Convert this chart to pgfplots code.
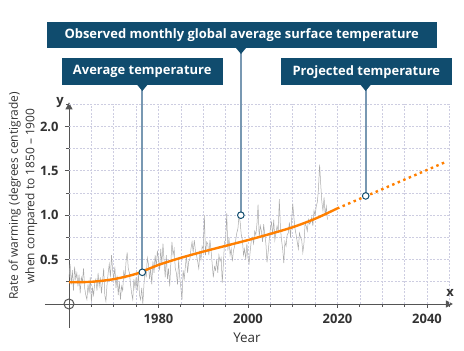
\documentclass[border=0pt]{standalone}
\usepackage{pgfplots}
\pgfplotsset{compat=1.18}
\usepackage{fontspec}
\setmainfont{Open Sans}
\usetikzlibrary{arrows.meta}
\definecolor{boxblue}{RGB}{16,76,110}
\definecolor{conn}{RGB}{120,152,178}
\definecolor{orangec}{RGB}{255,127,0}
\definecolor{grayd}{RGB}{170,170,170}
\definecolor{gridc}{RGB}{205,205,225}
\definecolor{axisgray}{RGB}{85,85,85}
\definecolor{labelgray}{RGB}{50,50,50}
\begin{document}
\begin{tikzpicture}
\useasboundingbox (-69bp,-47bp) rectangle (395bp,304bp);
\begin{axis}[
  anchor=origin, at={(0,0)},
  x=4.475bp, y=88.8bp,
  xmin=-5.4, xmax=85.8, ymin=-0.27, ymax=2.27,
  axis lines=middle,
  axis line style={draw=axisgray, line width=0.9bp, -{Triangle[length=7bp,width=7bp]}},
  xtick={20,40,60,80}, xticklabels={1980,2000,2020,2040},
  minor xtick={5,10,...,85},
  ytick={0.5,1,1.5,2}, yticklabels={0.5,1.0,1.5,2.0},
  minor ytick={0.25,0.75,1.25,1.75,2.25},
  tick align=outside,
  tick style={draw=axisgray, line width=0.9bp},
  major tick length=4bp, minor tick length=3bp,
  ticklabel style={font=\bfseries\fontsize{13}{13}\selectfont, text=labelgray},
  xticklabel style={yshift=-3bp},
  yticklabel style={xshift=-3bp},
  clip=false,
]
\pgfplotsinvokeforeach{5,10,15,20,25,30,35,40,45,50,55,60,65,70,75,80,85}{
  \draw[gridc, line width=0.7bp, dash pattern=on 2bp off 1.5bp] (axis cs:#1,0) -- (axis cs:#1,2.25);
}
\pgfplotsinvokeforeach{0.25,0.5,0.75,1,1.25,1.5,1.75,2,2.25}{
  \draw[gridc, line width=0.7bp, dash pattern=on 2bp off 1.5bp] (axis cs:0,#1) -- (axis cs:85,#1);
}
% observed monthly (sampled) temperature
\addplot[grayd, line width=0.5bp] coordinates {
(0,.30)(0.25,.45)(0.5,.22)(0.75,.38)
(1,.15)(1.25,.42)(1.5,.28)(1.75,.35)
(2,.20)(2.25,.33)(2.5,.12)(2.75,.30)
(3,.25)(3.25,.40)(3.5,.18)(3.75,.10)
(4,.05)(4.25,.22)(4.5,.12)(4.75,.30)
(5,.02)(5.25,.18)(5.5,.10)(5.75,.24)
(6,.28)(6.25,.15)(6.5,.35)(6.75,.20)
(7,.30)(7.25,.12)(7.5,.26)(7.75,.40)
(8,.10)(8.25,.03)(8.5,.22)(8.75,.35)
(9,.45)(9.25,.30)(9.5,.55)(9.75,.38)
(10,.28)(10.25,.42)(10.5,.18)(10.75,.32)
(11,.10)(11.25,.25)(11.5,.05)(11.75,.20)
(12,.15)(12.25,.38)(12.5,.28)(12.75,.48)
(13,.58)(13.25,.40)(13.5,.35)(13.75,.22)
(14,.12)(14.25,.05)(14.5,.28)(14.75,.18)
(15,.30)(15.25,.15)(15.5,.35)(15.75,.10)
(16,.05)(16.25,.18)(16.5,.00)(16.75,.22)
(17,.40)(17.25,.30)(17.5,.52)(17.75,.45)
(18,.28)(18.25,.40)(18.5,.22)(18.75,.48)
(19,.35)(19.25,.55)(19.5,.42)(19.75,.60)
(20,.50)(20.25,.38)(20.5,.62)(20.75,.45)
(21,.68)(21.25,.48)(21.5,.30)(21.75,.55)
(22,.28)(22.25,.40)(22.5,.20)(22.75,.45)
(23,.70)(23.25,.55)(23.5,.62)(23.75,.40)
(24,.35)(24.25,.22)(24.5,.50)(24.75,.30)
(25,.18)(25.25,.05)(25.5,.38)(25.75,.28)
(26,.42)(26.25,.55)(26.5,.35)(26.75,.48)
(27,.50)(27.25,.62)(27.5,.70)(27.75,.58)
(28,.72)(28.25,.60)(28.5,.55)(28.75,.48)
(29,.40)(29.25,.58)(29.5,.50)(29.75,.65)
(30,.62)(30.25,1.00)(30.5,.55)(30.75,.70)
(31,.68)(31.25,.55)(31.5,.72)(31.75,.60)
(32,.45)(32.25,.30)(32.5,.42)(32.75,.38)
(33,.50)(33.25,.35)(33.5,.55)(33.75,.48)
(34,.52)(34.25,.24)(34.5,.45)(34.75,.70)
(35,.72)(35.25,1.02)(35.5,.60)(35.75,.75)
(36,.55)(36.25,.62)(36.5,.48)(36.75,.60)
(37,.65)(37.25,.72)(37.5,.80)(37.75,.85)
(38,1.00)(38.25,.92)(38.5,.78)(38.75,.72)
(39,.55)(39.25,.62)(39.5,.50)(39.75,.68)
(40,.52)(40.25,.46)(40.5,.60)(40.75,.72)
(41,.75)(41.25,.68)(41.5,.82)(41.75,.78)
(42,.90)(42.25,1.12)(42.5,.75)(42.75,.88)
(43,.82)(43.25,.70)(43.5,.90)(43.75,.78)
(44,.68)(44.25,.47)(44.5,.58)(44.75,.72)
(45,.85)(45.25,.92)(45.5,.78)(45.75,.95)
(46,.72)(46.25,.80)(46.5,.88)(46.75,.82)
(47,1.18)(47.25,.85)(47.5,.72)(47.75,.62)
(48,.46)(48.25,.70)(48.5,.65)(48.75,.78)
(49,.80)(49.25,.92)(49.5,.75)(49.75,.95)
(50,1.13)(50.25,.98)(50.5,.85)(50.75,.78)
(51,.70)(51.25,.62)(51.5,.80)(51.75,.75)
(52,.72)(52.25,.58)(52.5,.68)(52.75,.90)
(53,.88)(53.25,.82)(53.5,.95)(53.75,.90)
(54,.92)(54.25,.98)(54.5,.88)(54.75,1.05)
(55,1.00)(55.25,1.10)(55.5,1.15)(55.75,1.30)
(56,1.57)(56.25,1.35)(56.5,1.15)(56.75,1.05)
(57,1.20)(57.25,1.00)(57.5,1.10)(57.75,.95)
};
% average (smoothed) temperature
\addplot[orangec, line width=2.4bp, smooth] coordinates {
(0,.245)(5,.25)(10,.28)(15,.34)(20,.44)(25,.52)(30,.59)(35,.655)(40,.72)(45,.79)(50,.865)(55,.96)(59.9,1.075)
};
% projected temperature
\addplot[orangec, line width=2.4bp, dash pattern=on 2.5bp off 3.5bp] coordinates {
(59.9,1.075)(84.2,1.60)
};
% connectors
\draw[conn, line width=2bp] (axis cs:16.38,0.357) -- (axis cs:16.38,2.6);
\draw[conn, line width=2bp] (axis cs:38.4,1.0) -- (axis cs:38.4,3.0);
\draw[conn, line width=2bp] (axis cs:66.3,1.217) -- (axis cs:66.3,2.6);
\addplot[only marks, mark=*, mark size=3.3bp, mark options={fill=white, draw=boxblue, line width=1bp}] coordinates {(16.38,0.357)(38.4,1.0)(66.3,1.217)};
\end{axis}
\draw[axisgray, line width=1bp] (0,0) circle (5bp);
% axis names
\node[font=\bfseries\fontsize{13}{13}\selectfont, text=labelgray] at (381bp,11bp) {x};
\node[font=\bfseries\fontsize{13}{13}\selectfont, text=labelgray] at (-9bp,201bp) {y};
\node[font=\fontsize{13.5}{13.5}\selectfont, text=labelgray] at (178bp,-34bp) {Year};
\node[rotate=90, align=center, font=\fontsize{12}{16.5}\selectfont, text=labelgray] at (-46bp,108bp) {Rate of warming (degrees centigrade)\\when compared to 1850 -- 1900};
% boxes
\tikzset{bx/.style={fill=boxblue, text=white, font=\bfseries\fontsize{13}{13}\selectfont, inner sep=0pt, minimum height=26.7bp}}
\node[bx, minimum width=390bp] at (172.7bp,269bp) {Observed monthly global average surface temperature};
\fill[boxblue] (167bp,256bp) -- (177bp,256bp) -- (172bp,250bp) -- cycle;
\node[bx, minimum width=161bp] at (73.2bp,232.35bp) {Average temperature};
\fill[boxblue] (68.3bp,219bp) -- (78.3bp,219bp) -- (73.3bp,213bp) -- cycle;
\node[bx, minimum width=170.7bp] at (297.35bp,232.35bp) {Projected temperature};
\fill[boxblue] (291.7bp,219bp) -- (301.7bp,219bp) -- (296.7bp,213bp) -- cycle;
\end{tikzpicture}
\end{document}
